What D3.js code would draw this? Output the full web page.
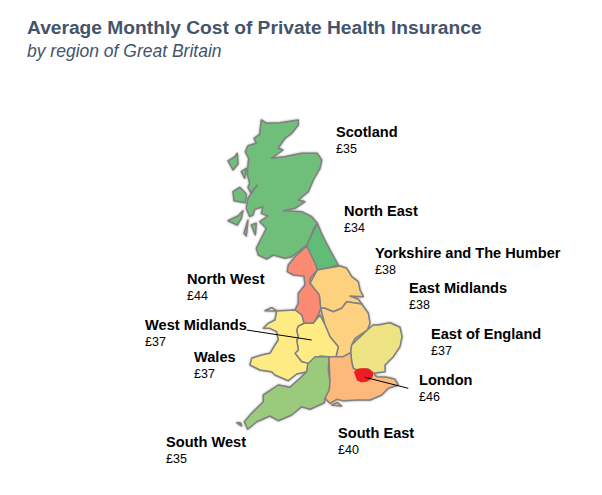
<!DOCTYPE html>
<html>
<head>
<meta charset="utf-8">
<script src="https://cdn.jsdelivr.net/npm/d3@7"></script>
<style>
    html, body { margin: 0; padding: 0; background: #fff; }
    text { font-family: "Liberation Sans", Arial, sans-serif; }
</style>
</head>
<body>
<div id="chart"></div>
<script>
// Data (London last so it is painted over the South East)
const regions = ['Scotland', 'North East', 'Yorkshire and The Humber', 'North West', 'East Midlands',
    'West Midlands', 'East of England', 'Wales', 'South West', 'South East', 'London'];
const costs = [35, 34, 38, 44, 38, 37, 37, 37, 35, 40, 46];
const colours = ['#6fbf7b', '#63bb78', '#fdd27e', '#fb8a72', '#fdd17f', '#ffeb84', '#ede383', '#ffeb84', '#9acb7c', '#fdb87b', '#ee1c25'];

const scotlandShape = [
    [[261.3,120],[266.7,123.3],[280,122.7],[298.3,120],[298.3,125],[291.7,133.3],[285,138.3],[278,148.3],[283,150],[271.3,158.3],[284.7,156.7],[301.7,153.3],[317.3,153.3],[321.7,160],[320,168.3],[313.3,180],[308.3,191.7],[298.3,200],[305,201.7],[295,208.3],[283.3,210.7],[301.7,211.7],[311.7,216.7],[317.3,223.3],[313.3,229.3],[310,238.3],[306.7,245],[298.3,251.7],[291.7,256.7],[285,258.3],[273.3,255],[266.7,259],[258.3,255],[256.3,248.3],[263,235],[266.3,228.3],[263,225],[259.7,221.7],[268,216],[261.3,213.3],[263,206.7],[254.7,209.3],[253,215],[249.7,216.7],[246.3,208.3],[248,198.3],[257.3,185],[250.7,192.7],[248,187.3],[249.7,183.3],[247.3,174.3],[248,165],[248.7,158.3],[245.3,151.7],[248,145.7],[256.3,143.3],[254,138.3],[259.7,134.3],[258,128.3]],
    [[251.3,225],[256.3,223.3],[255.3,235],[249.7,235]],
    [[248,220],[244,233.3],[246.3,236],[250.7,221.7]],
    [[228,220.7],[238,216],[243,210.7],[241.3,218.3],[237.3,225],[230.7,225]],
    [[233,191.7],[239.7,187.3],[246.3,194],[245.3,202.7],[234,200.7],[238,195.7]],
    [[228,161],[234.7,157],[237.3,153.3],[238,164],[233,170],[230,167]],
    [[241.3,171.7],[246.3,168.3],[244.7,178.3],[239.7,176.7]]
];
const northEastShape = [
    [[317.3,223.3],[323,236.7],[330,250],[338.3,265],[326.7,268.3],[317.3,270],[315,263.3],[310,255],[306.7,245],[310,238.3],[313.3,229.3]]
];
const yorkshireShape = [
    [[317.3,270],[326.7,268.3],[340,266],[346.7,268.3],[351.7,276.7],[358.3,281.7],[360,290],[363.3,296.7],[350,296],[358.3,299.3],[361.7,304],[346.7,301.7],[341.7,308.3],[333.3,311.7],[325,308.3],[320.7,308.3],[319.3,295],[310,283.3],[310,278.3]]
];
const northWestShape = [
    [[306.7,246],[295,256.7],[288.3,265],[287.3,271.7],[293.3,275],[304,276],[305,285],[298.3,293.3],[298.3,303.3],[295,310],[301.7,315],[304,323.3],[313.3,323.3],[318.3,315],[320.7,308.3],[319.3,295],[310,283.3],[310,278.3],[317.3,270],[315,263.3],[310,255]]
];
const eastMidlandsShape = [
    [[320.7,308.3],[325,308.3],[333.3,311.7],[341.7,308.3],[346.7,301.7],[361.7,304],[368.3,313.3],[370,323.3],[367.3,330],[355,338.3],[351.7,345],[350.7,352.7],[343.3,356.7],[336,356.7],[338.3,346.7],[330,336.7],[325,325],[320,315]]
];
const westMidlandsShape = [
    [[320,315],[325,325],[330,336.7],[338.3,346.7],[336,356.7],[329,356.7],[320,356],[310,363.3],[308.3,365],[301.7,361.7],[295,353.3],[298.3,350],[296.7,340],[298.3,338],[296.7,330],[298.3,326],[304,323.3],[313.3,323.3],[318.3,315]]
];
const eastEnglandShape = [
    [[367.3,330],[373.3,325],[378.3,325],[390,322.7],[400,327.3],[402,336.7],[400,346.7],[393.3,356.7],[390,360],[385,365],[385,371.7],[373.3,373.3],[368.3,369.3],[356.7,370],[353.3,368.3],[351.7,361.7],[350.7,352.7],[351.7,345],[355,338.3]]
];
const walesShape = [
    [[276.7,311],[295,310],[301.7,315],[304,323.3],[298.3,326],[296.7,330],[298.3,338],[296.7,340],[298.3,350],[295,353.3],[301.7,361.7],[308.3,363.3],[306.7,371.7],[296.7,374],[288.3,380.7],[275,375],[271.7,371.7],[260,370],[250,365],[251.7,358.3],[261.7,355],[270,353.3],[275,345],[278.3,340],[276.7,331.7],[270,328.3],[263.3,328.3],[268.3,323.3],[275,320],[278.3,315]],
    [[265,310.7],[271.7,307.7],[276.7,311],[270,316.7]]
];
const southWestShape = [
    [[329,356.7],[328.3,370],[330,381.7],[329.3,390],[325,398.3],[324.3,402.7],[310,409.3],[301.7,406.7],[291.7,415],[278.3,420.7],[270,416],[256.7,421.7],[247.7,429.3],[244.3,421.7],[251.7,413.3],[263.3,401.7],[263.3,395],[268.3,391.7],[278.3,385],[290,387.3],[300,378.3],[306.7,371.7],[307.7,364],[315,356.7],[326.7,355]],
    [[236.7,422.7],[240.5,422.7],[241.7,426],[237.5,426]]
];
const southEastShape = [
    [[329,356.7],[336,356.7],[343.3,356.7],[350.7,352.7],[351.7,361.7],[353.3,368.3],[356.7,370],[368.3,369.3],[373.3,373.3],[376.7,376.7],[386.7,377.3],[395,379.3],[398.3,385],[388.3,388.3],[381.7,395],[370,400],[356.7,400],[343.3,400.7],[336.7,399.3],[330,403.3],[325,398.3],[329.3,390],[330,381.7],[328.3,370]],
    [[331.7,405],[337.3,402.7],[341.7,406],[337.3,408.3]]
];
const londonShape = [
    [[354,372],[356,369.5],[360,368.3],[366,368.3],[370,369.5],[372.8,372],[373,376],[371,379],[367,381.7],[361,382.3],[357,380.5],[354.7,377]]
];
const shapes = [scotlandShape, northEastShape, yorkshireShape, northWestShape, eastMidlandsShape,
    westMidlandsShape, eastEnglandShape, walesShape, southWestShape, southEastShape, londonShape];

const width = 602;
const height = 495;

const features = regions.map(function(name, i) {
    return {
        type: 'Feature',
        properties: { name: name, cost: costs[i], colour: colours[i] },
        geometry: { type: 'MultiPolygon', coordinates: shapes[i].map(function(ring) { return [ring]; }) }
    };
});

const svg = d3.select('#chart')
    .append('svg')
    .attr('width', width)
    .attr('height', height)
    .style('display', 'block');

svg.append('text').attr('x', 27).attr('y', 34)
    .attr('font-size', '19.2px').attr('font-weight', 'bold').attr('fill', '#44546a')
    .text('Average Monthly Cost of Private Health Insurance');
svg.append('text').attr('x', 27).attr('y', 57)
    .attr('font-size', '17.5px').attr('font-style', 'italic').attr('fill', '#44546a')
    .text('by region of Great Britain');

// the map units are page pixels, so a plain identity projection does it
const path = d3.geoPath(d3.geoIdentity());

svg.append('g')
    .style('filter', 'drop-shadow(0 0 1px #999) blur(0.4px)')
    .selectAll('path')
    .data(features)
    .enter()
    .append('path')
    .attr('d', path)
    .attr('fill', function(d) { return d.properties.colour; })
    .attr('stroke', function(d) { return d.properties.name === 'London' ? 'none' : '#808080'; })
    .attr('stroke-width', 1.5)
    .attr('stroke-linejoin', 'round');

// Label placement, same order as regions
const labelX = [336, 344, 375, 187, 409, 145, 431, 194, 166, 338, 419];
const labelY = [137, 216, 258, 284, 293, 330, 339, 362, 447, 438, 385];

// Leader lines for the two labels that sit away from their region
const leaders = [
    { from: [246.7, 330], to: [311.7, 340] },
    { from: [365, 377.3], to: [408.3, 388.3] }
];
svg.append('g')
    .selectAll('line')
    .data(leaders)
    .enter()
    .append('line')
    .attr('x1', function(d) { return d.from[0]; })
    .attr('y1', function(d) { return d.from[1]; })
    .attr('x2', function(d) { return d.to[0]; })
    .attr('y2', function(d) { return d.to[1]; })
    .attr('stroke', '#000')
    .attr('stroke-width', 1);

const labels = svg.append('g')
    .selectAll('g')
    .data(features)
    .enter()
    .append('g')
    .attr('transform', function(d, i) { return `translate(${labelX[i]}, ${labelY[i]})`; });

labels.append('text')
    .attr('font-size', '14.6px')
    .attr('font-weight', 'bold')
    .attr('fill', '#000')
    .text(function(d) { return d.properties.name; });

labels.append('text')
    .attr('y', 16)
    .attr('font-size', '12.5px')
    .attr('fill', '#000')
    .text(function(d) { return '£' + d.properties.cost; });
</script>
</body>
</html>
